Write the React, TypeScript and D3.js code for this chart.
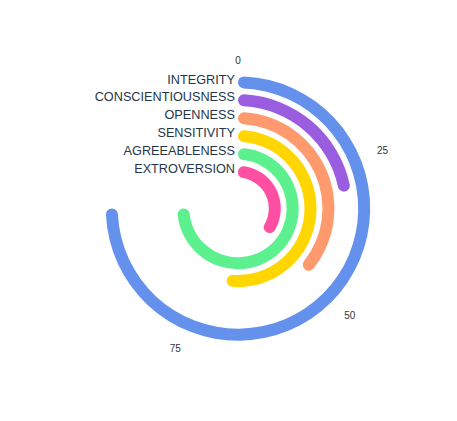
import React from "react";
import * as d3 from "d3";

const categories = ["INTEGRITY", "CONSCIENTIOUSNESS", "OPENNESS", "SENSITIVITY", "AGREEABLENESS", "EXTROVERSION"];
const values = [100, 30, 49, 70, 100, 48];
const colors = ["#6391ec", "#9b5de0", "#ff9a6e", "#ffd600", "#5cf08e", "#ff4fa3"];
const ticks = [0, 25, 50, 75];

const W = 457;
const H = 421;
const cx = 238;
const cy = 208.5;
const half = 6;

export default function App() {
  const angle = d3.scaleLinear().domain([0, 100]).range([0, 1.5 * Math.PI]);
  const radius = d3.scalePoint<string>().domain(categories).range([126.2, 36.8]);
  const arc = d3.arc<any>().cornerRadius(half);
  const labelR = 151;

  return (
    <svg
      width={W}
      height={H}
      style={{ position: "absolute", left: 0, top: 0, background: "#fff" }}
      fontFamily="'Liberation Sans', Arial, Helvetica, sans-serif"
    >
      <g transform={`translate(${cx},${cy})`}>
        {categories.map((c, i) => {
          const r = radius(c) as number;
          const d = arc({
            innerRadius: r - half,
            outerRadius: r + half,
            startAngle: 0,
            endAngle: angle(values[i]),
          }) as string;
          return <path key={c} d={d} fill={colors[i]} />;
        })}
        {categories.map((c) => {
          const r = radius(c) as number;
          return (
            <text key={c} x={-3} y={-r + 1.3} textAnchor="end" fontSize={12.7} fill="#26354a">
              {c}
            </text>
          );
        })}
        {ticks.map((t) => {
          const a = angle(t);
          const rr = t === 0 ? 148 : labelR;
          const s = Math.sin(a);
          const off = Math.abs(s) > 0.3 ? Math.sign(s) * 5 : 0;
          return (
            <text
              key={t}
              x={rr * s + off}
              y={-rr * Math.cos(a)}
              textAnchor="middle"
              dominantBaseline="central"
              fontSize={10}
              fill="#333"
            >
              {t}
            </text>
          );
        })}
      </g>
    </svg>
  );
}
